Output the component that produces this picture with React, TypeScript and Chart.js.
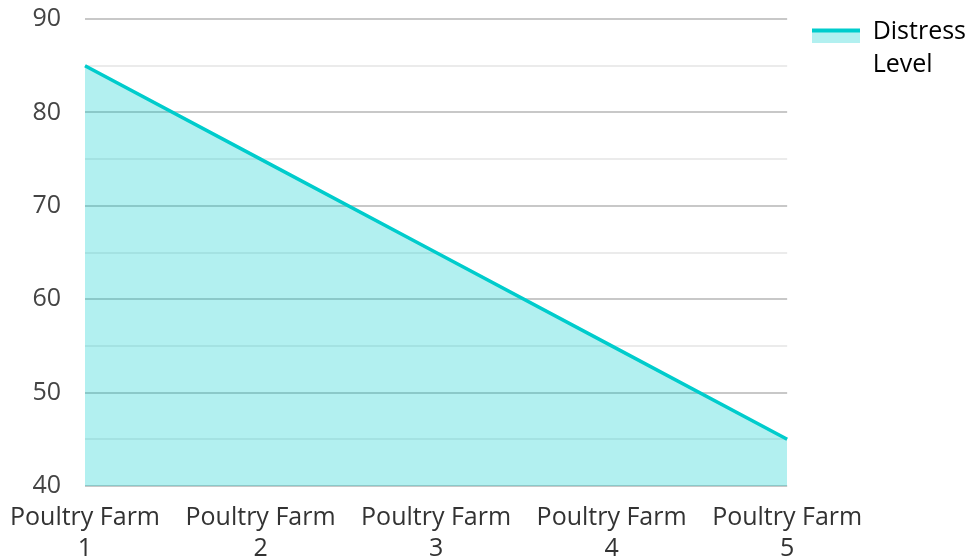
import React, { useEffect, useRef } from "react";
import { Chart, registerables } from "chart.js";

Chart.register(...registerables);

const categories: string[][] = [
  ["Poultry Farm", "1"],
  ["Poultry Farm", "2"],
  ["Poultry Farm", "3"],
  ["Poultry Farm", "4"],
  ["Poultry Farm", "5"],
];
const distressLevel: number[] = [85, 75, 65, 55, 45];
const seriesLabel: string[] = ["Distress", "Level"];
const yMin = 40;
const yMax = 90;
const yStep = 5;

const LINE = "rgb(0,204,204)";
const FILL = "rgba(0,204,204,0.3)";
const FONT = "'Open Sans', sans-serif";

function makeLegendIcon(): HTMLCanvasElement {
  const c = document.createElement("canvas");
  c.width = 48;
  c.height = 22;
  const ctx = c.getContext("2d")!;
  ctx.fillStyle = FILL;
  ctx.fillRect(0, 8, 48, 14);
  ctx.fillStyle = LINE;
  ctx.fillRect(0, 8, 48, 4);
  return c;
}

export default function App() {
  const ref = useRef<HTMLCanvasElement | null>(null);
  useEffect(() => {
    document.body.style.margin = "0";
    const icon = makeLegendIcon();
    const chart = new Chart(ref.current!, {
      type: "line",
      data: {
        labels: categories,
        datasets: [
          {
            label: seriesLabel.join(" "),
            data: distressLevel,
            borderColor: LINE,
            backgroundColor: FILL,
            borderWidth: 3.5,
            pointRadius: 0,
            fill: "start",
            tension: 0,
          },
        ],
      },
      options: {
        animation: false,
        responsive: true,
        maintainAspectRatio: false,
        layout: { padding: { left: 12, top: -6, right: -8, bottom: 0 } },
        plugins: {
          tooltip: { enabled: false },
          legend: {
            position: "right",
            align: "start",
            labels: {
              usePointStyle: true,
              pointStyleWidth: 48,
              boxWidth: 48,
              boxHeight: 14,
              padding: 25,
              color: "#222",
              font: { family: FONT, size: 25, lineHeight: 1.32 },
              generateLabels: () => [
                {
                  text: seriesLabel as any,
                  fillStyle: FILL,
                  strokeStyle: LINE,
                  lineWidth: 0,
                  pointStyle: icon as any,
                  datasetIndex: 0,
                  hidden: false,
                } as any,
              ],
            },
          },
        },
        scales: {
          x: {
            grid: { display: false, drawTicks: false },
            border: { display: false },
            afterFit: (s: any) => {
              s.height = 72;
              s.paddingLeft = 0;
              s.paddingRight = 0;
            },
            ticks: {
              color: "#333",
              padding: 16,
              maxRotation: 0,
              autoSkip: false,
              font: { family: FONT, size: 25, lineHeight: 1.24 },
            },
          },
          y: {
            min: yMin,
            max: yMax,
            afterFit: (s: any) => {
              s.width = 73;
              s.paddingTop = 19;
              s.paddingBottom = 0;
            },
            grid: {
              drawTicks: false,
              lineWidth: 2,
              color: (ctx: any) =>
                ctx.tick && ctx.tick.value % 10 === 0 ? "#c8c8c8" : "#ebebeb",
            },
            border: { display: false },
            ticks: {
              stepSize: yStep,
              padding: 24,
              color: "#444",
              font: { family: FONT, size: 25 },
              callback: (v: any) => (Number(v) % 10 === 0 ? String(v) : ""),
            },
          },
        },
      },
    });
    return () => chart.destroy();
  }, []);
  return (
    <div style={{ position: "absolute", left: 0, top: 0, width: 968, height: 558 }}>
      <canvas ref={ref} />
    </div>
  );
}
